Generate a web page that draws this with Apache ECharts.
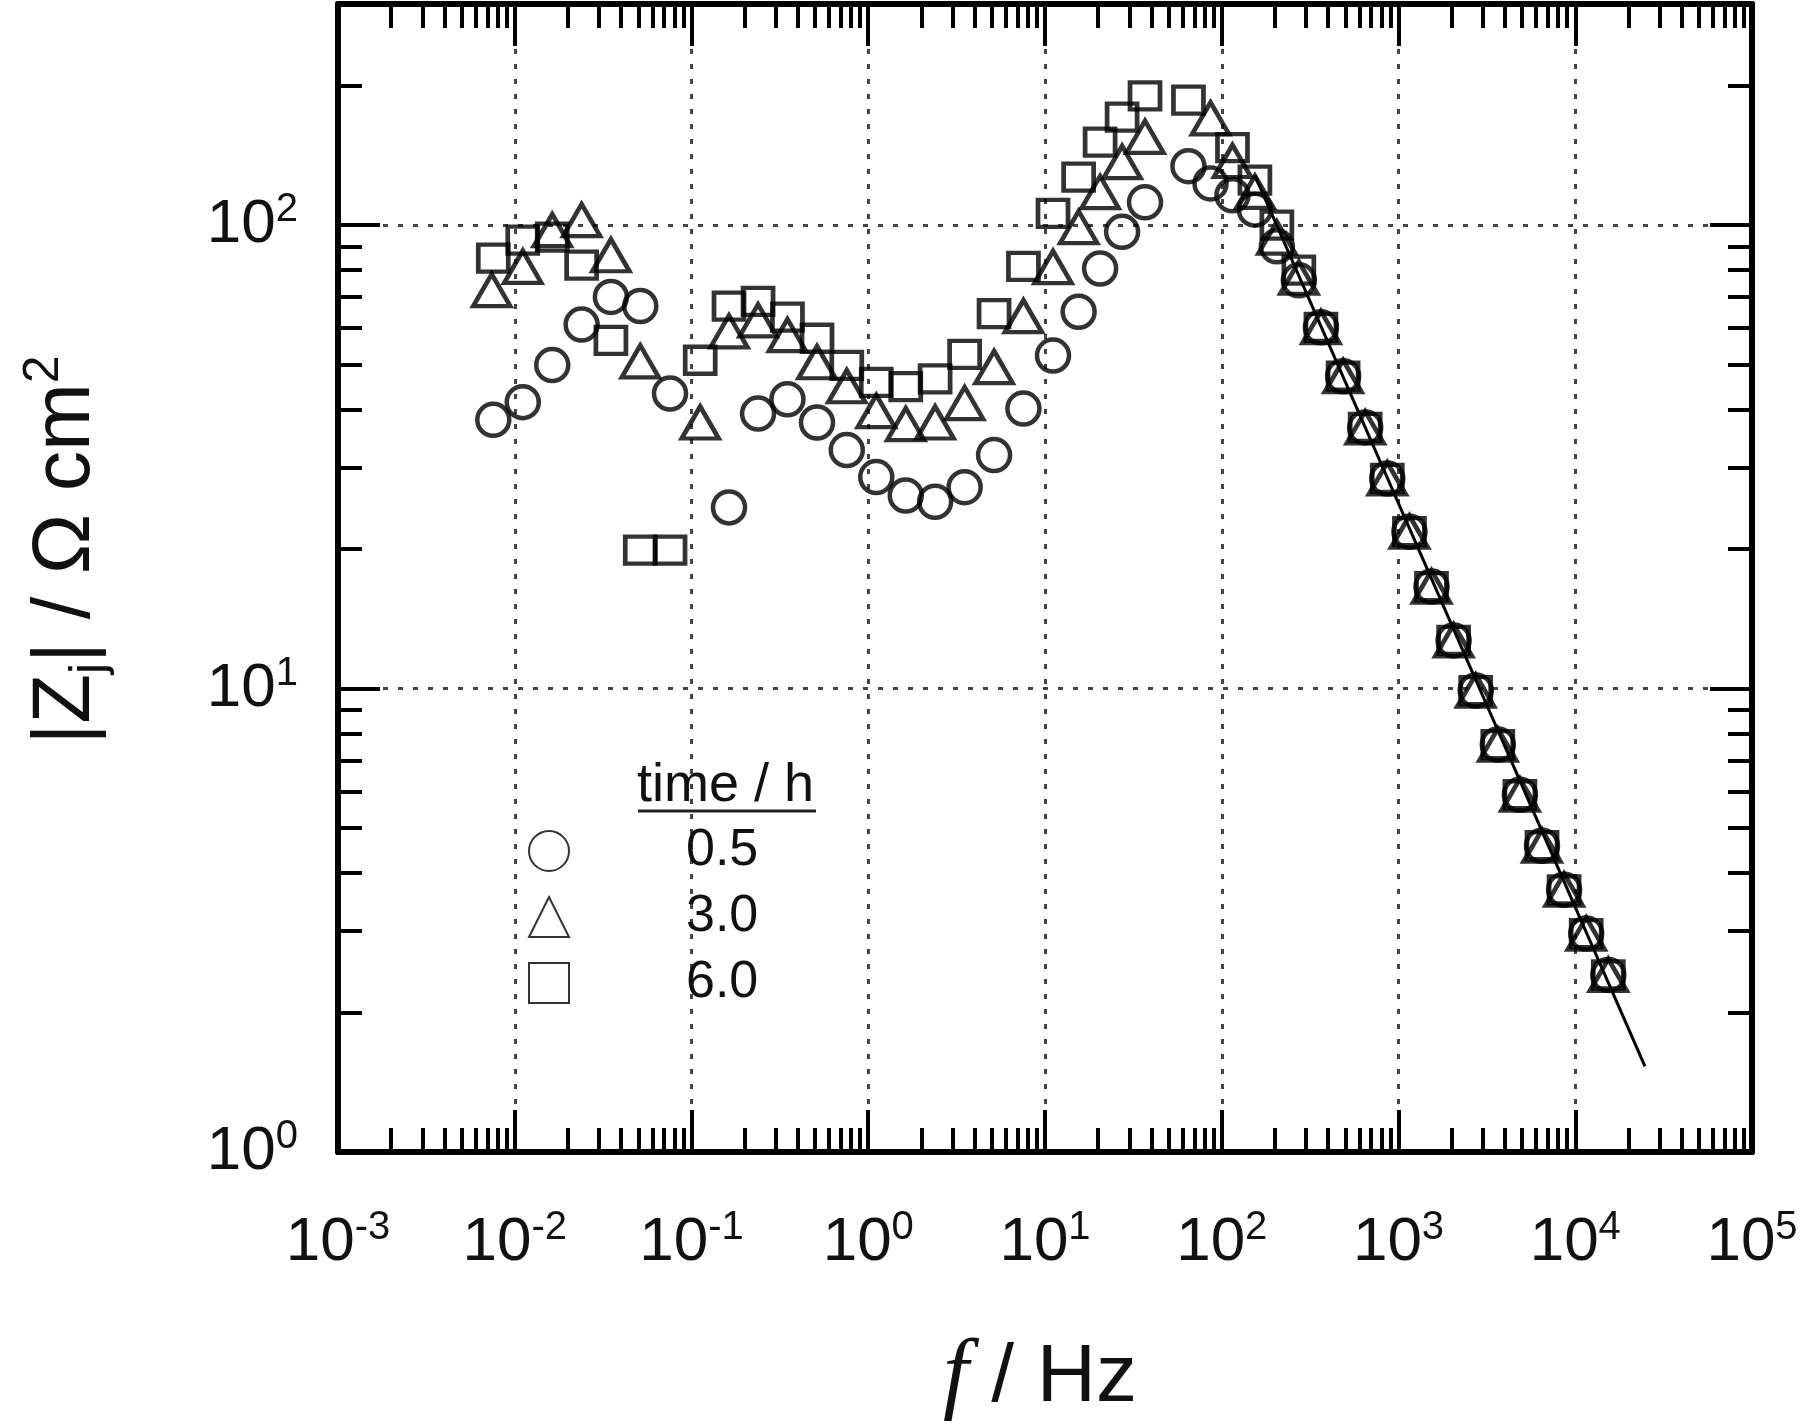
<!DOCTYPE html>
<html><head><meta charset="utf-8">
<script src="https://cdn.jsdelivr.net/npm/echarts@6/dist/echarts.min.js"></script>
<style>html,body{margin:0;padding:0;background:#fff}#c{width:1800px;height:1425px}</style>
</head><body><div id="c"></div>
<script>
// ---- data (frequency in Hz, |Z| in ohm cm2) ----
const legendLabels = ['0.5', '3.0', '6.0'];
const legendTitle = 'time / h';

const freq05 = [0.00756, 0.0111, 0.0163, 0.0239, 0.0350, 0.0513, 0.0756, 0.163, 0.238, 0.349, 0.513, 0.756, 1.11, 1.63, 2.39, 3.51, 5.15, 7.55, 11.1, 15.5, 20.5, 27.3, 36.8, 64.8, 86.4, 115, 154, 205, 273];
const z05    = [38.0, 41.5, 49.9, 61.0, 70.0, 66.9, 43.3, 24.6, 39.2, 42.1, 37.5, 32.7, 28.6, 26.1, 25.3, 27.2, 31.9, 40.2, 52.3, 65.0, 80.6, 96.7, 112, 134, 123, 116, 108, 90, 76];

const freq30 = [0.00741, 0.0111, 0.0163, 0.0239, 0.0350, 0.0513, 0.112, 0.163, 0.238, 0.349, 0.513, 0.756, 1.11, 1.63, 2.39, 3.51, 5.15, 7.55, 11.1, 15.5, 20.5, 27.3, 36.8, 86.4, 115, 154, 205, 273];
const z30    = [72.4, 81.3, 97.5, 102.5, 86.1, 50.8, 37.5, 59.0, 62.3, 57.9, 50.6, 44.9, 39.7, 37.2, 37.5, 41.3, 49.4, 63.6, 81.2, 99.0, 117.8, 136.8, 155, 170, 137.5, 118, 94, 77];

const freq60 = [0.00756, 0.0111, 0.0163, 0.0239, 0.0350, 0.0513, 0.0756, 0.112, 0.163, 0.238, 0.349, 0.513, 0.756, 1.11, 1.63, 2.39, 3.51, 5.15, 7.55, 11.1, 15.5, 20.5, 27.3, 36.8, 64.8, 115, 154, 205, 273];
const z60    = [84.9, 92.8, 94.2, 82.0, 56.4, 19.9, 19.9, 51.1, 66.9, 68.5, 63.3, 57.0, 49.8, 45.8, 44.8, 46.6, 52.6, 64.4, 81.5, 106, 127, 151, 171, 190, 186, 147, 125, 100, 80];

// high-frequency branch shared by all three curves
const hfFreq = [364, 486, 648, 864, 1153, 1537, 2050, 2734, 3646, 4862, 6484, 8647, 11535, 15382];
const hfZ    = [60.2, 47.2, 36.6, 28.4, 21.8, 16.6, 12.7, 9.9, 7.57, 5.90, 4.58, 3.68, 2.96, 2.41];

// fitted line
const fitFreq = [154, 24800];
const fitZ    = [128, 1.53];

const xRange = [0.001, 100000];
const yRange = [1, 300];

// ---- helpers ----
function pairs(f, z) { return f.map((v, i) => [v, z[i]]); }
function minorTicks(lo, hi) {
  const out = [];
  const eLo = Math.floor(Math.log10(lo)), eHi = Math.ceil(Math.log10(hi));
  for (let e = eLo; e < eHi; e++) for (let k = 2; k <= 9; k++) {
    const v = parseFloat((k * Math.pow(10, e)).toPrecision(6));
    if (v > lo && v < hi) out.push(v);
  }
  return out;
}
const sans = '"Liberation Sans", Arial, Helvetica, sans-serif';
const serif = '"Liberation Serif", "Times New Roman", serif';
const ink = '#111';
const labRich = {
  b: { fontSize: 62, fontFamily: sans, color: ink, lineHeight: 70 },
  s: { fontSize: 40, fontFamily: sans, color: ink, lineHeight: 18, verticalAlign: 'top' }
};
function powLabel(v) { return '{b|10}{s|' + Math.round(Math.log10(v)) + '}'; }

const frame = { show: true, onZero: false, lineStyle: { color: '#000', width: 6 } };
const majorTick = { show: true, inside: true, length: 42, lineStyle: { color: '#000', width: 4 } };
function minorTick(vals) { return { show: true, inside: true, length: 24, customValues: vals, lineStyle: { color: '#000', width: 4 } }; }
const grid = { show: true, lineStyle: { color: '#444', width: 3, type: [5, 10] } };
const off = { show: false };

const xMinor = minorTicks(xRange[0], xRange[1]);
const yMinor = minorTicks(yRange[0], yRange[1]);

function xAx(pos, main, minor) {
  return {
    type: 'log', logBase: 10, min: xRange[0], max: xRange[1], position: pos,
    axisLine: minor ? off : frame,
    axisTick: minor ? minorTick(xMinor) : majorTick,
    axisLabel: (main ? { show: true, margin: 56, formatter: powLabel, rich: labRich } : off),
    splitLine: main ? grid : off,
    name: main ? '{i|f}{n| / Hz}' : '',
    nameLocation: 'middle', nameGap: 178,
    nameTextStyle: {
      padding: [0, 10, 0, 0],
      rich: {
        i: { fontFamily: serif, fontStyle: 'italic', fontSize: 92, color: ink, lineHeight: 96 },
        n: { fontFamily: sans, fontSize: 82, color: ink, lineHeight: 96 }
      }
    }
  };
}
function yAx(pos, main, minor) {
  return {
    type: 'log', logBase: 10, min: yRange[0], max: yRange[1], position: pos,
    axisLine: minor ? off : frame,
    axisTick: minor ? minorTick(yMinor) : majorTick,
    axisLabel: (main ? { show: true, margin: 40, showMaxLabel: false, formatter: powLabel, rich: labRich } : off),
    splitLine: main ? grid : off,
    name: main ? '{a||Z}{j|j}{a|| / Ω cm}{s|2}' : '',
    nameLocation: 'middle', nameGap: 223, nameRotate: 90,
    nameTextStyle: {
      padding: [0, 0, 0, 56],
      rich: {
        a: { fontFamily: sans, fontSize: 81, color: ink, lineHeight: 96 },
        j: { fontFamily: sans, fontSize: 50, color: ink, lineHeight: 34, verticalAlign: 'bottom' },
        s: { fontFamily: sans, fontSize: 50, color: ink, lineHeight: 26, verticalAlign: 'top' }
      }
    }
  };
}

const markerStyle = { color: 'transparent', borderColor: '#000', borderWidth: 4.5 };

const option = {
  animation: false,
  backgroundColor: '#fff',
  grid: { left: 338, right: 48, top: 4, bottom: 273, containLabel: false, outerBoundsMode: 'none' },
  xAxis: [xAx('bottom', true, false), xAx('top', false, false), xAx('bottom', false, true), xAx('top', false, true)],
  yAxis: [yAx('left', true, false), yAx('right', false, false), yAx('left', false, true), yAx('right', false, true)],
  legend: {
    data: legendLabels, orient: 'vertical', left: 523, top: 820,
    itemWidth: 40, itemHeight: 40, itemGap: 14, selectedMode: false,
    textStyle: { fontSize: 52, fontFamily: sans, color: ink, padding: [0, 0, 0, 112] }
  },
  graphic: [
    { type: 'text', left: 637, top: 759, style: { text: legendTitle, font: '54px ' + sans, fill: ink } },
    { type: 'line', shape: { x1: 638, y1: 811, x2: 816, y2: 811 }, style: { stroke: '#222', lineWidth: 3 } }
  ],
  series: [
    { name: legendLabels[0], type: 'scatter', symbol: 'circle', symbolSize: 32,
      data: pairs(freq05.concat(hfFreq), z05.concat(hfZ)), itemStyle: markerStyle },
    { name: legendLabels[1], type: 'scatter', symbol: 'triangle', symbolSize: [37, 32],
      data: pairs(freq30.concat(hfFreq), z30.concat(hfZ)), itemStyle: markerStyle },
    { name: legendLabels[2], type: 'scatter', symbol: 'rect', symbolSize: [30, 27],
      data: pairs(freq60.concat(hfFreq), z60.concat(hfZ)), itemStyle: markerStyle },
    { name: 'fit', type: 'line', data: pairs(fitFreq, fitZ), symbol: 'none',
      lineStyle: { color: '#000', width: 3 }, z: 1 }
  ]
};
const chart = echarts.init(document.getElementById('c'), null, { renderer: 'canvas' });
chart.setOption(option);
</script>
</body></html>
